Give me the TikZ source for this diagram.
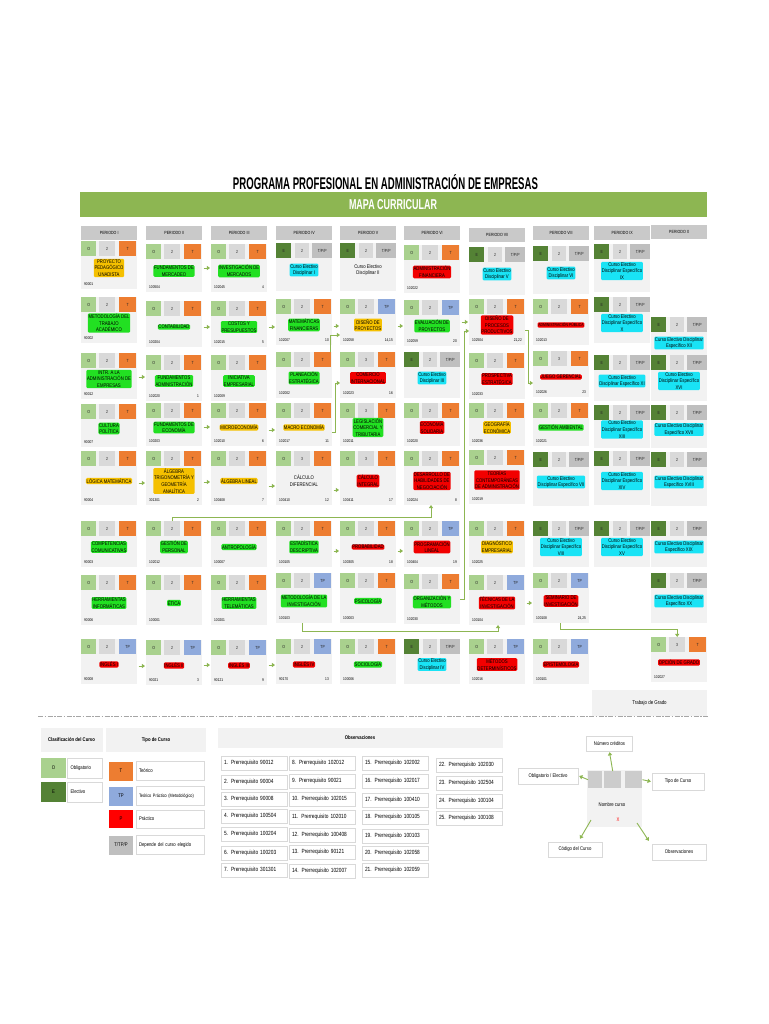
\documentclass[tikz,border=0pt]{standalone}
\usepackage{fontspec}
\usepackage{graphicx}
\setmainfont{Liberation Sans}
\newfontfamily\cond[FakeStretch=0.8]{Liberation Sans}
\usetikzlibrary{arrows.meta,calc}
\definecolor{cO}{HTML}{A9D18E}
\definecolor{cE}{HTML}{548235}
\definecolor{cCr}{HTML}{D9D9D9}
\definecolor{cT}{HTML}{ED7D31}
\definecolor{cTP}{HTML}{8FAADC}
\definecolor{cX}{HTML}{BFBFBF}
\definecolor{cP}{HTML}{FF0000}
\definecolor{cCard}{HTML}{F2F2F2}
\definecolor{cHead}{HTML}{C9C9C9}
\definecolor{cBan}{HTML}{8DB652}
\definecolor{cArr}{HTML}{8DB652}
\definecolor{cBord}{HTML}{D9D9D9}
\definecolor{hG}{HTML}{22E022}
\definecolor{hY}{HTML}{F5C000}
\definecolor{hR}{HTML}{F20000}
\definecolor{hC}{HTML}{19E3F5}
\def\labT{T}\def\labTP{TP}\def\labX{T/P/P}
\def\cardh{48}
\newcommand\lgf{\cond\fontsize{5.3}{6.2}\selectfont}
\newcommand\obf{\cond\fontsize{6}{7}\selectfont}
\newcommand\crs[9]{%
  \begin{scope}[shift={#2}]
    \node[card,minimum height=\cardh] (#1) at (0,0) {};
    \node[sq,fill=c#3,minimum width=15pt] (#1-a) at (0,0) {#3};
    \node[sq,fill=cCr,cr#5] (#1-b) at (0,0) {#4};
    \node[sq,ty#5] (#1-c) at (0,0) {\csname lab#5\endcsname};
    \node[ttl,fill=#7] (#1-t) at (28,{(\cardh+6)/2}) {#6};
    \node[cod,anchor=west] (#1-k) at (3,{\cardh-5}) {#8};
    \node[cod,anchor=east] (#1-o) at (53,{\cardh-5}) {#9};
  \end{scope}}
\begin{document}
\begin{tikzpicture}[x=1pt,y=-1pt,
  card/.style={anchor=north west,fill=cCard,minimum width=56pt,inner sep=0pt,outer sep=0pt},
  sq/.style={anchor=north west,minimum height=15pt,inner sep=0pt,text=black!85,font=\cond\fontsize{4.4}{4.4}\selectfont},
  crT/.style={xshift=18pt,minimum width=16pt},
  crTP/.style={crT},
  crX/.style={xshift=19pt,minimum width=14pt},
  tyT/.style={xshift=38pt,minimum width=17pt,fill=cT},
  tyTP/.style={xshift=38pt,minimum width=17pt,fill=cTP},
  tyX/.style={xshift=36pt,minimum width=20pt,fill=cX},
  ttl/.style={align=center,inner sep=0.7pt,rounded corners=1.2pt,font=\cond\fontsize{5.3}{6.6}\selectfont},
  cod/.style={inner sep=0pt,font=\cond\fontsize{4}{4.4}\selectfont},
  phead/.style={anchor=north west,fill=cHead,minimum width=56pt,minimum height=14pt,inner sep=0pt,font=\cond\fontsize{4.5}{5}\selectfont},
  arr/.style={draw=cArr,line width=0.9pt,-{Triangle[length=3.2pt,width=4.2pt]}},
  short/.style={arr,shorten <=1.5pt,shorten >=1pt},
  lgh/.style={fill=cCard,inner sep=0pt,font=\lgf\bfseries},
  lsq/.style={inner sep=0pt,font=\lgf},
  lbox/.style={draw=cBord,fill=white,inner xsep=3pt,inner ysep=0pt,align=left,font=\lgf},
  obox/.style={draw=cBord,fill=white,inner xsep=3pt,inner ysep=0pt,align=left,text width=60pt,minimum height=14pt,font=\obf},
  cbox/.style={draw=cBord,fill=white,inner sep=0pt,font=\lgf}]
\fill[white] (0,0) rectangle (768,1024);
\useasboundingbox (0,0) rectangle (768,1024);

% title and banner
\node[inner sep=0pt] (title) at (385.5,182.5) {\resizebox{305pt}{15pt}{\bfseries PROGRAMA PROFESIONAL EN ADMINISTRACIÓN DE EMPRESAS}};
\node[fill=cBan,minimum width=627pt,minimum height=25pt,inner sep=0pt,anchor=north west] (banner) at (80,192) {};
\node[inner sep=0pt,text=white] (bantxt) at (393,204.5) {\resizebox{88pt}{10pt}{\bfseries MAPA CURRICULAR}};

% period headers
\node[phead] (p1) at (81,226) {PERIODO I};
\node[phead] (p2) at (146,226) {PERIODO II};
\node[phead] (p3) at (211,226) {PERIODO III};
\node[phead] (p4) at (276,226) {PERIODO IV};
\node[phead] (p5) at (340,226) {PERIODO V};
\node[phead] (p6) at (404,226) {PERIODO VI};
\node[phead] (p7) at (469,228) {PERIODO VII};
\node[phead] (p8) at (533,226) {PERIODO VIII};
\node[phead] (p9) at (594,226) {PERIODO IX};
\node[phead] (p10) at (651,225) {PERIODO X};

% row 1
\def\cardh{48}
\crs{c11}{(81,241)}{O}{2}{T}{PROYECTO\\PEDAGÓGICO\\UNADISTA}{hY}{90001}{}
\crs{c21}{(146,244)}{O}{2}{T}{FUNDAMENTOS DE\\MERCADEO}{hG}{100504}{}
\crs{c31}{(211,244)}{O}{2}{T}{INVESTIGACIÓN DE\\MERCADOS}{hG}{102045}{4}
\crs{c41}{(276,243)}{E}{2}{X}{Curso Electivo\\Disciplinar I}{hC}{}{}
\crs{c51}{(340,243)}{E}{2}{X}{Curso Electivo\\Disciplinar II}{none}{}{}
\crs{c61}{(404,245)}{O}{2}{T}{ADMINISTRACIÓN\\FINANCIERA}{hR}{102022}{}
\crs{c71}{(469,247)}{E}{2}{X}{Curso Electivo\\Disciplinar V}{hC}{}{}
\crs{c81}{(533,246)}{E}{2}{X}{Curso Electivo\\Disciplinar VI}{hC}{}{}
\crs{c91}{(594,244)}{E}{2}{X}{Curso Electivo\\Disciplinar Específico\\IX}{hC}{}{}

% row 2
\def\cardh{46}
\crs{c12}{(81,297)}{O}{2}{T}{METODOLOGÍA DEL\\TRABAJO\\ACADÉMICO}{hG}{90002}{}
\crs{c22}{(146,301)}{O}{2}{T}{CONTABILIDAD}{hG}{100204}{}
\crs{c32}{(211,301)}{O}{2}{T}{COSTOS Y\\PRESUPUESTOS}{hG}{102015}{5}
\crs{c42}{(276,299)}{O}{2}{T}{MATEMÁTICAS\\FINANCIERAS}{hG}{102007}{10}
\crs{c52}{(340,299)}{O}{2}{TP}{DISEÑO DE\\PROYECTOS}{hY}{102058}{14,15}
\crs{c62}{(404,300)}{O}{2}{TP}{EVALUACIÓN DE\\PROYECTOS}{hG}{102059}{20}
\crs{c72}{(469,299)}{O}{2}{T}{DISEÑO DE\\PROCESOS\\PRODUCTIVOS}{hR}{102504}{21,22}
\crs{c82}{(533,299)}{O}{2}{T}{\fontsize{4.3}{5}\selectfont ADMINISTRACIÓN PÚBLICA}{hR}{102013}{}
\crs{c92}{(594,297)}{E}{2}{X}{Curso Electivo\\Disciplinar Específico\\X}{hC}{}{}
\crs{cX2}{(651,317)}{E}{2}{X}{Curso Electivo Disciplinar\\Específico XII}{hC}{}{}

% row 3
\def\cardh{46}
\crs{c13}{(81,353)}{O}{2}{T}{INTR. A LA\\ADMINISTRACIÓN DE\\EMPRESAS}{hG}{90012}{}
\crs{c23}{(146,355)}{O}{2}{T}{FUNDAMENTOS\\ADMINISTRACIÓN}{hG}{102020}{1}
\crs{c33}{(211,355)}{O}{2}{T}{INICIATIVA\\EMPRESARIAL}{hG}{102009}{}
\crs{c43}{(276,352)}{O}{2}{T}{PLANEACIÓN\\ESTRATÉGICA}{hG}{102002}{}
\crs{c53}{(340,352)}{O}{3}{T}{COMERCIO\\INTERNACIONAL}{hR}{102023}{16}
\crs{c63}{(404,352)}{E}{2}{X}{Curso Electivo\\Disciplinar III}{hC}{}{}
\crs{c73}{(469,353)}{O}{2}{T}{PROSPECTIVA\\ESTRATÉGICA}{hR}{102033}{}
\crs{c83}{(533,351)}{O}{3}{T}{JUEGO GERENCIAL}{hR}{102026}{23}
\crs{c93}{(594,355)}{E}{2}{X}{Curso Electivo\\Disciplinar Específico XI}{hC}{}{}
\crs{cX3}{(651,355)}{E}{2}{X}{Curso Electivo\\Disciplinar Específico\\XVI}{hC}{}{}

% row 4
\def\cardh{43}
\crs{c14}{(81,404)}{O}{2}{T}{CULTURA\\POLÍTICA}{hG}{90007}{}
\crs{c24}{(146,403)}{O}{2}{T}{FUNDAMENTOS DE\\ECONOMÍA}{hG}{100203}{}
\crs{c34}{(211,403)}{O}{2}{T}{MICROECONOMÍA}{hY}{102010}{6}
\crs{c44}{(276,403)}{O}{2}{T}{MACRO ECONOMÍA}{hY}{102017}{11}
\crs{c54}{(340,403)}{O}{3}{T}{LEGISLACIÓN\\COMERCIAL Y\\TRIBUTARIA}{hG}{102011}{}
\crs{c64}{(404,403)}{O}{2}{T}{ECONOMÍA\\SOLIDARIA}{hR}{102020}{}
\crs{c74}{(469,403)}{O}{2}{T}{GEOGRAFÍA\\ECONÓMICA}{hY}{102036}{}
\crs{c84}{(533,403)}{O}{2}{T}{GESTIÓN AMBIENTAL}{hG}{102021}{}
\crs{c94}{(594,405)}{E}{2}{X}{Curso Electivo\\Disciplinar Específico\\XIII}{hC}{}{}
\crs{cX4}{(651,405)}{E}{2}{X}{Curso Electivo Disciplinar\\Específico XVII}{hC}{}{}

% row 5
\def\cardh{54}
\crs{c15}{(81,451)}{O}{2}{T}{LÓGICA MATEMÁTICA}{hY}{90004}{}
\crs{c25}{(146,451)}{O}{2}{T}{ÁLGEBRA\\TRIGONOMETRÍA Y\\GEOMETRÍA\\ANALÍTICA}{hY}{301301}{2}
\crs{c35}{(211,451)}{O}{2}{T}{ÁLGEBRA LINEAL}{hY}{100408}{7}
\crs{c45}{(276,451)}{O}{3}{T}{CÁLCULO\\DIFERENCIAL}{none}{100410}{12}
\crs{c55}{(340,451)}{O}{3}{T}{CÁLCULO\\INTEGRAL}{hR}{100411}{17}
\crs{c65}{(404,451)}{O}{2}{T}{DESARROLLO DE\\HABILIDADES DE\\NEGOCIACIÓN}{hR}{102024}{8}
\crs{c75}{(469,450)}{O}{2}{T}{TEORÍAS\\CONTEMPORÁNEAS\\DE ADMINISTRACIÓN}{hR}{102019}{}
\crs{c85}{(533,452)}{E}{2}{X}{Curso Electivo\\Disciplinar Específico VII}{hC}{}{}
\crs{c95}{(594,451)}{E}{2}{X}{Curso Electivo\\Disciplinar Específico\\XIV}{hC}{}{}
\crs{cX5}{(651,452)}{E}{2}{X}{Curso Electivo Disciplinar\\Específico XVIII}{hC}{}{}

% row 6
\def\cardh{46}
\crs{c16}{(81,521)}{O}{2}{T}{COMPETENCIAS\\COMUNICATIVAS}{hG}{90003}{}
\crs{c26}{(146,521)}{O}{2}{T}{GESTIÓN DE\\PERSONAL}{hG}{102012}{}
\crs{c36}{(211,521)}{O}{2}{T}{ANTROPOLOGÍA}{hG}{100007}{}
\crs{c46}{(276,521)}{O}{2}{T}{ESTADÍSTICA\\DESCRIPTIVA}{hG}{100105}{}
\crs{c56}{(340,521)}{O}{2}{T}{PROBABILIDAD}{hR}{100305}{18}
\crs{c66}{(404,521)}{O}{2}{TP}{PROGRAMACIÓN\\LINEAL}{hR}{100404}{19}
\crs{c76}{(469,521)}{O}{2}{T}{DIAGNÓSTICO\\EMPRESARIAL}{hY}{102025}{}
\crs{c86}{(533,521)}{E}{2}{X}{Curso Electivo\\Disciplinar Específico\\VIII}{hC}{}{}
\crs{c96}{(594,521)}{E}{2}{X}{Curso Electivo\\Disciplinar Específico\\XV}{hC}{}{}
\crs{cX6}{(651,521)}{E}{2}{X}{Curso Electivo Disciplinar\\Específico XIX}{hC}{}{}

% row 7
\def\cardh{50}
\crs{c17}{(81,575)}{O}{2}{T}{HERRAMIENTAS\\INFORMÁTICAS}{hG}{90006}{}
\crs{c27}{(146,575)}{O}{2}{T}{ÉTICA}{hG}{100001}{}
\crs{c37}{(211,575)}{O}{2}{T}{HERRAMIENTAS\\TELEMÁTICAS}{hG}{100201}{}
\crs{c47}{(276,573)}{O}{2}{TP}{METODOLOGÍA DE LA\\INVESTIGACIÓN}{hG}{100103}{}
\crs{c57}{(340,573)}{O}{2}{T}{PSICOLOGÍA}{hG}{100003}{}
\crs{c67}{(404,574)}{O}{2}{T}{ORGANIZACIÓN Y\\MÉTODOS}{hG}{102030}{}
\crs{c77}{(469,575)}{O}{2}{TP}{TÉCNICAS DE LA\\INVESTIGACIÓN}{hR}{100104}{}
\crs{c87}{(533,573)}{O}{2}{TP}{SEMINARIO DE\\INVESTIGACIÓN}{hR}{100108}{24,25}
\crs{cX7}{(651,573)}{E}{2}{X}{Curso Electivo Disciplinar\\Específico XX}{hC}{}{}

% row 8
\def\cardh{45}
\crs{c18}{(81,639)}{O}{2}{TP}{INGLÉS I}{hR}{90008}{}
\crs{c28}{(146,640)}{O}{2}{TP}{INGLÉS II}{hR}{90021}{3}
\crs{c38}{(211,640)}{O}{2}{TP}{INGLÉS III}{hR}{90121}{9}
\crs{c48}{(276,639)}{O}{2}{TP}{INGLÉS IV}{hR}{90170}{13}
\crs{c58}{(340,639)}{O}{2}{T}{SOCIOLOGÍA}{hG}{100006}{}
\crs{c68}{(404,639)}{E}{2}{X}{Curso Electivo\\Disciplinar IV}{hC}{}{}
\crs{c78}{(469,639)}{O}{2}{TP}{MÉTODOS\\DETERMINÍSTICOS}{hR}{102016}{}
\crs{c88}{(533,639)}{O}{2}{TP}{EPISTEMOLOGÍA}{hR}{100101}{}
\crs{cX8}{(651,637)}{O}{3}{T}{OPCIÓN DE GRADO}{hR}{102027}{}

\node[card,minimum width=115pt,minimum height=26pt,font=\cond\fontsize{5.5}{6}\selectfont] (tg) at (592,690) {Trabajo de Grado};

% short arrows
\draw[short] (c21.east |- 0,268) -- (c31.west |- 0,268);
\draw[short] (c22.east |- 0,327) -- (c32.west |- 0,327);
\draw[short] (c32.east |- 0,327) -- (c42.west |- 0,327);
\draw[short] (c42.east |- 0,326) -- (c52.west |- 0,326);
\draw[short] (c52.east |- 0,326) -- (c62.west |- 0,326);
\draw[short] (c62.east |- 0,322) -- (c72.west |- 0,322);
\draw[short] (c13.east |- 0,377) -- (c23.west |- 0,377);
\draw[short] (c24.east |- 0,427) -- (c34.west |- 0,427);
\draw[short] (c34.east |- 0,430) -- (c44.west |- 0,430);
\draw[short] (c15.east |- 0,483) -- (c25.west |- 0,483);
\draw[short] (c25.east |- 0,482) -- (c35.west |- 0,482);
\draw[short] (c35.east |- 0,486) -- (c45.west |- 0,486);
\draw[short] (c45.east |- 0,490) -- (c55.west |- 0,490);
\draw[short] (c46.east |- 0,551) -- (c56.west |- 0,551);
\draw[short] (c56.east |- 0,551) -- (c66.west |- 0,551);
\draw[short] (c77.east |- 0,603) -- (c87.west |- 0,603);
\draw[short] (c18.east |- 0,666) -- (c28.west |- 0,666);
\draw[short] (c28.east |- 0,665) -- (c38.west |- 0,665);
\draw[short] (c38.east |- 0,665) -- (c48.west |- 0,665);

% long connectors
\draw[arr] ([xshift=-2pt]c43.north east) |- (c52.west |- 0,335);
\draw[arr] (c44.east |- 0,432) -- ++(3,0) |- (c53.west |- 0,383);
\draw[arr] (c26-b.north) -- ++(0,-4) -| ([xshift=27pt]c65.south west);
\draw[arr] ([xshift=26pt]c47.south west) -- ++(0,8) -| ([xshift=29pt]c77.south west);
\draw[arr] ([xshift=27pt]c87.south west) -- ++(0,6) -| (cX8-b.north);
\draw[arr] (c67.east) -- ++(4,0) |- (c72.west |- 0,331);
\draw[arr] (c72.east |- 0,330) -- ++(3,0) |- (c83.west |- 0,383);

% separator
\draw[gray!70,line width=0.8pt,dash pattern=on 5pt off 1.5pt on 1.5pt off 1.5pt] (38,716) -- (708,716);

% legend left
\node[lgh,minimum width=62pt,minimum height=24pt] (lh1) at (71.5,740) {Clasificación del Curso};
\node[lgh,minimum width=100pt,minimum height=24pt] (lh2) at (156,740) {Tipo de Curso};
\node[lsq,fill=cO,minimum width=25pt,minimum height=20pt] (lO) at (53.5,768) {O};
\node[lbox,text width=29pt,minimum height=20pt] (lOt) at (85,768) {Obligatorio};
\node[lsq,fill=cE,minimum width=25pt,minimum height=20pt] (lE) at (53.5,792) {E};
\node[lbox,text width=29pt,minimum height=20pt] (lEt) at (85,792) {Electivo};
\node[lsq,fill=cT,minimum width=24pt,minimum height=19pt] (lT) at (121,771) {T};
\node[lbox,text width=62pt,minimum height=19pt] (lTt) at (170,771) {Teórico};
\node[lsq,fill=cTP,minimum width=24pt,minimum height=19pt] (lTP) at (121,796) {TP};
\node[lbox,text width=62pt,minimum height=19pt,font=\cond\fontsize{4.8}{5.6}\selectfont] (lTPt) at (170,796) {Teórico Práctico (Metodológico)};
\node[lsq,fill=cP,minimum width=24pt,minimum height=18pt] (lP) at (121,819) {P};
\node[lbox,text width=62pt,minimum height=18pt] (lPt) at (170,819) {Práctico};
\node[lsq,fill=cX,minimum width=24pt,minimum height=19pt] (lX) at (121,845) {T/TP/P};
\node[lbox,text width=62pt,minimum height=19pt] (lXt) at (170,845) {Depende del curso elegido};

% observations
\node[lgh,minimum width=285pt,minimum height=20pt] (lh3) at (360,738) {Observaciones};
\foreach \n/\x/\y/\c in {1/254/763/90012,2/254/782/90004,3/254/799/90008,4/254/816/100504,5/254/834/100204,6/254/853/100203,7/254/870/301301,
  8/322/763/102012,9/322/781/90021,10/322/799/102015,11/322/817/102010,12/322/835/100408,13/322/852/90121,14/322/871/102007,
  15/395/763/102002,16/395/781/102017,17/395/800/100410,18/395/817/100105,19/395/836/100103,20/395/853/102058,21/395/870/102059,
  22/469/765/102030,23/469/783/102504,24/469/801/100104,25/469/818/100108}
  {\node[obox] (ob\n) at (\x,\y) {\n. Prerrequisito \c};}

% legend right
\node[card,minimum width=55pt,minimum height=57pt,fill=cCard] (lgcard) at (587,770) {};
\node[anchor=north west,fill=cX!80,minimum width=14pt,minimum height=17pt,inner sep=0pt] (lgs1) at (588,771) {};
\node[anchor=north west,fill=cX!80,minimum width=17pt,minimum height=17pt,inner sep=0pt] (lgs2) at (604,771) {};
\node[anchor=north west,fill=cX!80,minimum width=17pt,minimum height=17pt,inner sep=0pt] (lgs3) at (625,771) {};
\node[inner sep=0pt,font=\lgf] (lgname) at (612,805) {Nombre curso};
\node[inner sep=0pt,font=\lgf,text=red] (lgx) at (618,820) {X};
\node[cbox,minimum width=46pt,minimum height=15pt] (lnc) at (609.5,743.5) {Número créditos};
\node[cbox,minimum width=60pt,minimum height=16pt] (lob) at (548,776) {Obligatorio / Electivo};
\node[cbox,minimum width=52pt,minimum height=17pt] (ltc) at (678,781.5) {Tipo de Curso};
\node[cbox,minimum width=54pt,minimum height=15pt] (lcc) at (575,849.5) {Código del Curso};
\node[cbox,minimum width=54pt,minimum height=16pt] (lobs) at (679,852) {Observaciones};
\draw[arr] (lgs2.north) -- ([yshift=-1pt]lnc.south);
\draw[arr] (lgs1.west) -- ([xshift=1pt]lob.east);
\draw[arr] (lgs3.east) -- ([xshift=-1pt]ltc.west);
\draw[arr] ([xshift=4pt,yshift=7pt]lgcard.south west) -- ([xshift=5pt,yshift=3pt]lcc.north);
\draw[arr] ([xshift=-5pt,yshift=4pt]lgcard.south east) -- ([xshift=-3pt,yshift=3pt]lobs.north west);
\end{tikzpicture}
\end{document}
